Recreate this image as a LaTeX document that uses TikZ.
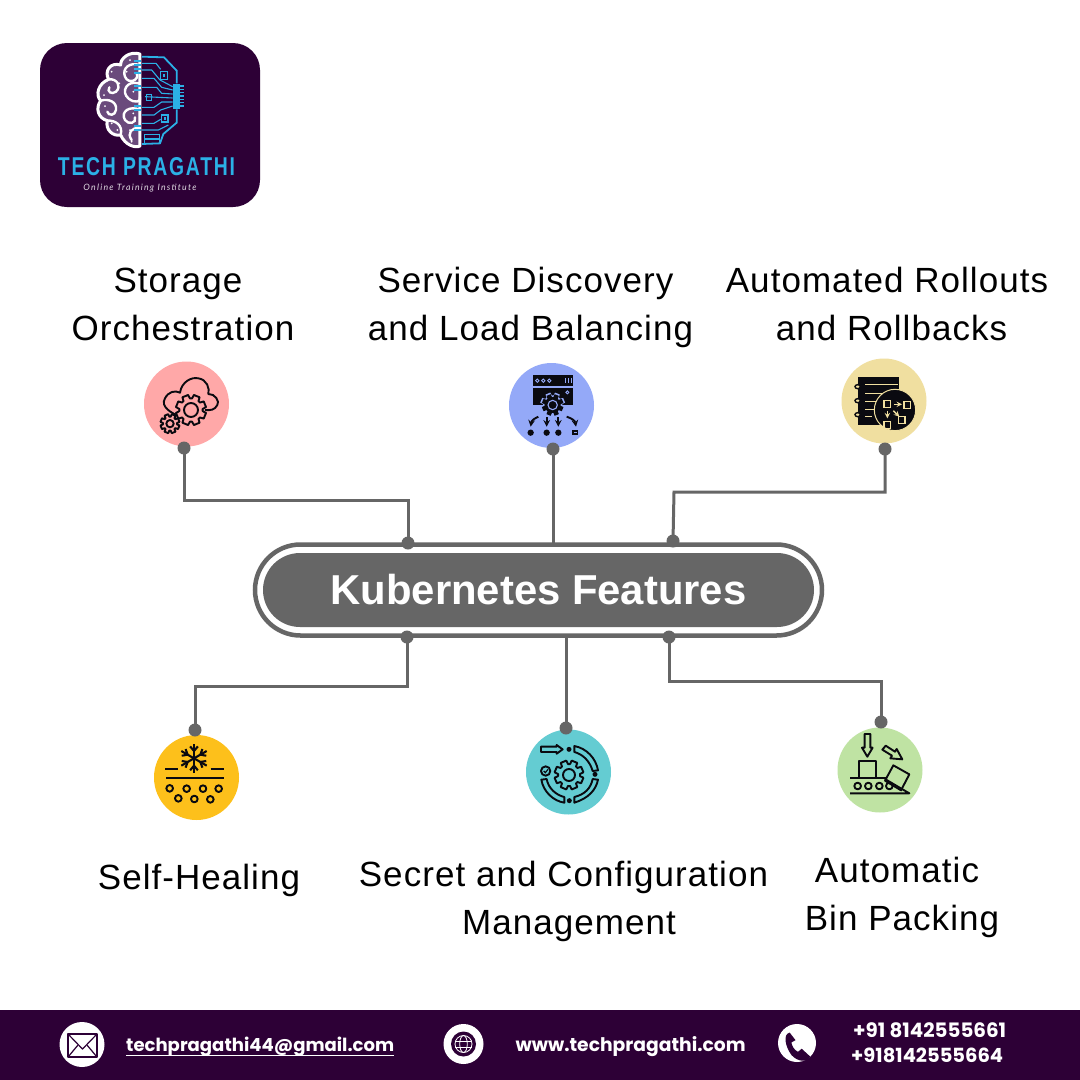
\documentclass[tikz,border=0pt]{standalone}
\usepackage{fontspec}
\usepackage{graphicx}
\usetikzlibrary{shapes.misc,calc}
\setmainfont{Poppins}
\newfontfamily\labelfont[LetterSpace=3]{Liberation Sans}
\newfontfamily\subfont{Lato}
\newfontfamily\titlefont{Liberation Sans}
\newfontfamily\logofont{Liberation Sans}
\definecolor{plum}{HTML}{2D0036}
\definecolor{slate}{HTML}{666666}
\definecolor{cyanlogo}{HTML}{2BB0E6}
\definecolor{brainfill}{HTML}{6A4A7C}
\definecolor{iconink}{HTML}{0A0A10}
\definecolor{cPink}{HTML}{FFA8A8}
\definecolor{cBlue}{HTML}{94A9F8}
\definecolor{cSand}{HTML}{F0DFA0}
\definecolor{cGold}{HTML}{FDC01B}
\definecolor{cTeal}{HTML}{64CCD2}
\definecolor{cGreen}{HTML}{BFE3A3}
\newcommand{\fitw}[2]{\resizebox{#1pt}{!}{#2}}
% gear outline only: cx cy outer inner teeth; options in #1
\newcommand{\gearshape}[6][]{%
  \pgfmathsetmacro{\gstep}{360/#6}%
  \path[line join=round,#1] ($(#2,#3)+(\gstep*0.24:#4)$)
    \foreach \k in {1,...,#6}{
      -- ($(#2,#3)+(\k*\gstep-\gstep*0.24:#4)$)
      -- ($(#2,#3)+(\k*\gstep-\gstep*0.12:#5)$)
      -- ($(#2,#3)+(\k*\gstep+\gstep*0.12:#5)$)
      -- ($(#2,#3)+(\k*\gstep+\gstep*0.24:#4)$)
    } -- cycle;
}
\tikzset{
  x=1pt,y=-1pt,
  badge/.style={circle,inner sep=0pt,minimum size=85pt},
  pin/.style={circle,fill=slate,inner sep=0pt,minimum size=13pt},
  wire/.style={draw=slate,line width=3pt},
  feature/.style={font=\labelfont\fontsize{35}{48}\selectfont,align=center,text=black,inner sep=0pt},
  icont/.style={draw=iconink,line width=1.9pt,line join=round},
  circuit/.style={draw=cyanlogo,line width=1.1pt},
  lobe/.style={draw=white,line width=2.4pt,line cap=round},
  foot/.style={font=\bfseries\fontsize{19}{25}\selectfont,text=white,inner sep=0pt},
}
\begin{document}
\begin{tikzpicture}
\useasboundingbox (0,0) rectangle (1080,1080);
\fill[white] (0,0) rectangle (1080,1080);

% ---------- logo
\node[fill=plum,rounded corners=27pt,minimum width=220pt,minimum height=164pt,inner sep=0pt] (logo) at (150,125) {};
\begin{scope}[shift={(30,30)},scale=1/3]
  \draw[draw=white,line width=3pt,fill=brainfill,line join=round]
    (330,72) .. controls (300,62) and (270,85) .. (272,105)
    .. controls (240,95) and (222,125) .. (236,148)
    .. controls (205,160) and (195,195) .. (212,212)
    .. controls (195,235) and (205,265) .. (232,272)
    .. controls (225,300) and (250,320) .. (272,315)
    .. controls (285,345) and (315,355) .. (330,348) -- cycle;
  \draw[lobe] (328,105) .. controls (300,95) and (275,115) .. (285,140) .. controls (295,165) and (330,150) .. (320,130);
  \draw[lobe] (236,148) .. controls (262,145) and (275,170) .. (258,185) .. controls (245,195) and (230,185) .. (238,172);
  \draw[lobe] (326,160) .. controls (290,150) and (272,185) .. (295,205) .. controls (315,222) and (335,215) .. (330,200);
  \draw[lobe] (212,212) .. controls (235,205) and (262,215) .. (258,240) .. controls (255,258) and (235,258) .. (232,245);
  \draw[lobe] (330,240) .. controls (300,225) and (270,245) .. (285,270) .. controls (295,285) and (320,280) .. (315,262);
  \draw[lobe] (232,272) .. controls (255,270) and (280,285) .. (272,315);
  \draw[lobe] (330,295) .. controls (305,290) and (290,310) .. (305,330);
  \foreach \a/\b in {245/125,290/125,310/185,222/195,225/228,245/280,300/300,268/160,310/250,262/300,300/90,305/335}
    \fill[white] (\a,\b) circle (3);
  \draw[circuit,line width=1.8pt] (336,80) -- (402,82) -- (440,122) -- (440,160);
  \draw[circuit,line width=1.8pt] (440,238) -- (440,278) -- (400,312) -- (390,340) -- (336,342);
  \fill[cyanlogo] (428,162) rectangle (450,236);
  \foreach \q in {168,178,...,232}{\draw[circuit] (450,\q) -- (462,\q);}
  \draw[circuit] (336,100) -- (378,100) -- (392,118);
  \draw[circuit,line width=1.5pt] (392,125) rectangle (412,148);
  \fill[cyanlogo] (399,133) rectangle (405,140);
  \draw[circuit] (336,120) -- (365,120) -- (390,150) -- (428,170);
  \draw[circuit] (336,145) -- (372,145) -- (395,172) -- (428,180);
  \draw[circuit] (336,172) -- (380,172) -- (395,190) -- (428,192);
  \draw[circuit] (345,200) -- (428,204);
  \draw[circuit,line width=1.6pt] (350,193) rectangle (364,212);
  \draw[circuit] (336,232) -- (372,232) -- (395,216) -- (428,216);
  \draw[circuit] (336,255) -- (372,255) -- (392,240) -- (428,228);
  \draw[circuit,line width=1.5pt] (394,255) rectangle (414,276);
  \fill[cyanlogo] (401,262) rectangle (407,269);
  \draw[circuit] (336,280) -- (372,280) -- (392,268);
  \draw[circuit] (336,300) -- (385,300) -- (415,285);
  \draw[circuit,line width=1.5pt] (343,314) rectangle (388,340);
  \draw[circuit] (343,327) -- (388,327);
  \foreach \q in {90,115,165,225,285}{\fill[cyanlogo] (312,\q) rectangle (334,\q+5);\fill[cyanlogo] (312,\q+12) rectangle (334,\q+17);}
\end{scope}
\node[inner sep=0pt,text=cyanlogo] (logotitle) at (146.5,166.5) {\resizebox{177pt}{18pt}{\logofont\bfseries\addfontfeature{LetterSpace=9}TECH PRAGATHI}};
\node[inner sep=0pt,text=white!85!plum] (logosub) at (140,188) {\fitw{113}{\subfont\itshape\addfontfeature{LetterSpace=14}Online Training Institute}};

% ---------- hub
\node[rounded rectangle,draw=slate,line width=4.5pt,minimum width=567pt,minimum height=91pt,inner sep=0pt] (hubring) at (538.5,590) {};
\node[rounded rectangle,fill=slate,minimum width=551pt,minimum height=74pt,inner sep=0pt,text=white] (hub) at (538.5,590)
  {\fitw{416}{\titlefont\bfseries Kubernetes Features}};

% ---------- badges
\node[badge,fill=cPink] (bStorage) at (186.5,404) {};
\node[badge,fill=cBlue] (bService) at (551.5,405.5) {};
\node[badge,fill=cSand] (bRollout) at (884,401) {};
\node[badge,fill=cGold] (bHeal) at (196.5,777.5) {};
\node[badge,fill=cTeal] (bSecret) at (568.5,772) {};
\node[badge,fill=cGreen] (bBin) at (880,770) {};

% ---------- connectors
\coordinate (pStorage) at (184,448);
\coordinate (pService) at (553,449);
\coordinate (pRollout) at (885,449);
\coordinate (pHeal) at (195,730);
\coordinate (pSecret) at (566,728);
\coordinate (pBin) at (881,722);
\coordinate (hTL) at (408,543);
\coordinate (hTM) at (553,544);
\coordinate (hTR) at (673,541);
\coordinate (hBL) at (407,637);
\coordinate (hBM) at (566,637);
\coordinate (hBR) at (669,637);
\coordinate (eA) at (184,500);
\coordinate (eB) at (408,500);
\coordinate (eC) at (885,492);
\coordinate (eD) at (674,492);
\coordinate (eE) at (407,686);
\coordinate (eF) at (195,686);
\coordinate (eG) at (669,681);
\coordinate (eH) at (881,681);
\draw[wire] (pStorage) -- (eA) -- (eB) -- (hTL);
\draw[wire] (pService) -- (hTM);
\draw[wire] (pRollout) -- (eC) -- (eD) -- (hTR);
\draw[wire] (hBL) -- (eE) -- (eF) -- (pHeal);
\draw[wire] (hBM) -- (pSecret);
\draw[wire] (hBR) -- (eG) -- (eH) -- (pBin);
\foreach \n in {pStorage,pService,pRollout,pHeal,pSecret,pBin,hTL,hTR,hBL,hBR}
  \node[pin] at (\n) {};

% ---------- icon: storage
\begin{scope}[shift={(130,350)},scale=1/3]
  \draw[icont] (150,200) .. controls (125,190) and (90,170) .. (105,145)
    .. controls (115,125) and (135,120) .. (150,128)
    .. controls (155,95) and (185,80) .. (205,85)
    .. controls (230,88) and (240,115) .. (235,132)
    .. controls (255,130) and (270,155) .. (262,165)
    .. controls (255,180) and (240,182) .. (225,180);
  \gearshape[icont,fill=cPink]{183}{180}{46}{35}{8}
  \draw[icont] (183,180) circle (21);
  \gearshape[icont,fill=cPink]{120}{221}{29}{21}{8}
  \draw[icont] (120,221) circle (11);
\end{scope}

% ---------- icon: service discovery
\begin{scope}[shift={(130,350)},scale=1/3]
  \fill[iconink] (1209,75) rectangle (1329,107);
  \fill[iconink] (1209,113) rectangle (1329,166);
  \foreach \q in {1222,1240,1258}{\draw[cBlue,line width=0.9pt] (\q,92) circle (5);}
  \foreach \q in {1306,1315,1324}{\draw[cBlue,line width=0.9pt] (\q,85) -- (\q,100);}
  \draw[cBlue,line width=0.9pt] (1312,127) circle (4.5);
  \gearshape[fill=cBlue]{1268}{165}{38}{29}{8}
  \gearshape[fill=iconink]{1268}{165}{33}{24}{8}
  \draw[cBlue,line width=1.1pt] (1268,165) circle (14);
  \draw[icont,-stealth] (1225,200) .. controls (1215,205) and (1205,210) .. (1202,230);
  \draw[icont,-stealth] (1250,202) -- (1250,230);
  \draw[icont,-stealth] (1285,202) -- (1285,230);
  \draw[icont,-stealth] (1310,200) .. controls (1325,205) and (1335,212) .. (1338,230);
  \fill[iconink] (1202,248) circle (9.5) (1250,248) circle (9.5) (1285,248) circle (9.5);
  \fill[iconink] (1327,240) rectangle (1344,256);
  \fill[cBlue] (1331,245) rectangle (1340,249);
\end{scope}

% ---------- icon: rollouts
\begin{scope}[shift={(820,350)},scale=1/3]
  \fill[iconink] (115,82) rectangle (237,225);
  \foreach \q in {110,152,194}{\draw[draw=iconink,fill=cSand,line width=1.4pt] (113,\q) ellipse (8 and 6);}
  \foreach \a/\b in {103/235,130/190,155/180,178/165,200/155}{\draw[cSand,line width=1.1pt] (135,\a) -- (\b,\a);}
  \draw[draw=cSand,fill=iconink,line width=1pt] (225,180) circle (62);
  \foreach \a/\b in {202/162,262/165,245/210,202/225}{\draw[draw=cSand,line width=1.3pt] (\a-10,\b-10) rectangle (\a+10,\b+10);}
  \draw[cSand,line width=1.4pt,-stealth] (222,163) -- (246,163);
  \draw[cSand,line width=1.4pt,-stealth] (202,182) -- (202,205);
  \draw[cSand,line width=1.4pt,-stealth] (220,182) -- (238,200);
\end{scope}

% ---------- icon: self healing
\begin{scope}[shift={(140,720)},scale=1/3]
  \foreach \ang in {0,60,...,300}{
    \draw[icont,line width=2.1pt] (162,115) -- ++(\ang+90:44);
    \draw[icont,line width=2.1pt] ($(162,115)+(\ang+90:22)$) -- ++(\ang+50:18);
    \draw[icont,line width=2.1pt] ($(162,115)+(\ang+90:22)$) -- ++(\ang+130:18);
  }
  \draw[icont] (76,148) -- (114,148);
  \draw[icont] (212,148) -- (252,148);
  \draw[icont] (78,175) -- (252,175);
  \foreach \a/\b in {89/205,140/206,189/206,236/206,115/235,163/237,211/238}
    \draw[icont] (\a,\b) circle (10);
\end{scope}

% ---------- icon: secret and configuration
\begin{scope}[shift={(510,715)},scale=1/3]
  \draw[icont] (93,95) -- (140,95) -- (140,90) -- (158,103) -- (140,116) -- (140,111) -- (93,111) -- cycle;
  \fill[iconink] (177,103) circle (7.5);
  \draw[icont] (193,93) .. controls (230,100) and (258,130) .. (264,166) -- (248,168) .. controls (240,140) and (220,118) .. (193,111) -- cycle;
  \fill[iconink] (255,178) circle (7.5);
  \draw[icont] (248,192) -- (264,194) .. controls (258,225) and (235,250) .. (193,263) -- (193,246) .. controls (225,238) and (242,220) .. (248,192) -- cycle;
  \fill[iconink] (178,257) circle (7.5);
  \draw[icont] (163,263) .. controls (130,258) and (100,230) .. (94,194) -- (110,192) .. controls (115,220) and (138,240) .. (163,246) -- cycle;
  \draw[icont] (107,168) circle (14);
  \draw[draw=iconink,line width=1.2pt] (101,168) -- (106,173) -- (114,163);
  \gearshape[icont,fill=cTeal]{177}{180}{44}{33}{8}
  \draw[icont] (177,180) circle (18);
\end{scope}

% ---------- icon: bin packing
\begin{scope}[shift={(825,715)},scale=1/3]
  \draw[icont] (119,57) -- (136,57) -- (136,98) -- (143,98) -- (127,125) -- (111,98) -- (119,98) -- cycle;
  \draw[icont] (182,92) -- (210,110) -- (215,102) -- (232,133) -- (196,130) -- (201,122) -- (172,104) -- cycle;
  \draw[icont] (101,137) rectangle (154,189);
  \draw[icont] (205,151) -- (253,178) -- (228,226) -- (180,197) -- cycle;
  \draw[icont] (75,189) -- (185,189);
  \draw[icont] (75,235) -- (253,235) -- (180,192);
  \foreach \q in {98,130,163,193}{\draw[icont] (\q,213) circle (10);}
\end{scope}

% ---------- feature labels
\node[feature] (tStorage) at (183,304) {Storage\hspace*{10pt}\\Orchestration};
\node[feature] (tService) at (530.5,307) {Service Discovery\hspace*{10pt}\\and Load Balancing};
\node[feature] (tRollout) at (891.5,304) {Automated Rollouts\hspace*{9pt}\\and Rollbacks};
\node[feature] (tHeal) at (199,880) {Self-Healing};
\node[feature] (tSecret) at (569,901) {Secret and Configuration\hspace*{11pt}\\Management};
\node[feature] (tBin) at (902,897) {Automatic\hspace*{10pt}\\Bin Packing};

% ---------- footer
\fill[plum] (0,1010) rectangle (1080,1080);
\node[circle,fill=white,inner sep=0pt,minimum size=45pt] (cMail) at (82,1044.5) {};
\node[circle,fill=white,inner sep=0pt,minimum size=40pt] (cWeb) at (463.5,1044) {};
\node[circle,fill=white,inner sep=0pt,minimum size=38pt] (cPhone) at (797,1043) {};
% envelope
\draw[draw=plum,line width=1.2pt,line join=round] (68,1034) rectangle (97,1057);
\draw[draw=plum,line width=1.2pt,line join=round] (68,1034) -- (82.5,1049) -- (97,1034);
\draw[draw=plum,line width=1.2pt] (68,1057) -- (78,1045) (97,1057) -- (87,1045);
% globe
\fill[plum] (cWeb) circle (12.5);
\draw[white,line width=0.8pt] (cWeb) circle (8.5);
\draw[white,line width=0.8pt] (cWeb) ellipse (3.8 and 8.5);
\draw[white,line width=0.8pt] (455,1041) -- (472,1041) (455,1047) -- (472,1047);
% handset
\begin{scope}[shift={(540,1005)},scale=1/2.904]
  \fill[plum] (725,80) .. controls (705,85) and (712,120) .. (730,145)
    .. controls (748,165) and (775,168) .. (785,150)
    -- (760,127) -- (749,136)
    .. controls (738,130) and (732,120) .. (730,109)
    -- (742,102) -- cycle;
\end{scope}
\node[foot,anchor=base west] (tMail) at (126,1051) {\fitw{268}{techpragathi44@gmail.com}};
\coordinate (uA) at (126,1055.5);
\coordinate (uB) at (394,1055.5);
\draw[white,line width=1.2pt] (uA) -- (uB);
\node[foot,anchor=base west] (tWeb) at (515.5,1051) {\fitw{230}{www.techpragathi.com}};
\node[foot,anchor=base west] (tPhoneA) at (853,1037.5) {\fitw{153}{+91 8142555661}};
\node[foot,anchor=base west] (tPhoneB) at (851,1062.5) {\fitw{152}{+918142555664}};
\end{tikzpicture}
\end{document}
